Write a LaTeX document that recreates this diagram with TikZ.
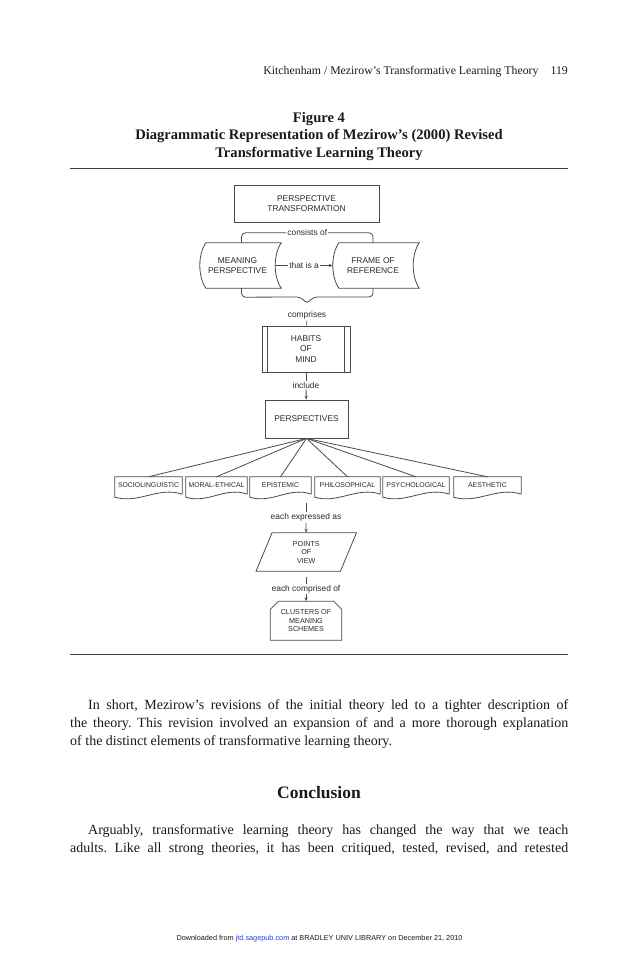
\documentclass[tikz,border=0pt]{standalone}
\usepackage{fontspec}
\setmainfont{Liberation Serif}
\newfontfamily\arialf{Liberation Sans}
\usetikzlibrary{arrows.meta,calc}
\definecolor{dline}{HTML}{4A4A4A}
\definecolor{dtext}{HTML}{2A2A2A}
\definecolor{ink}{HTML}{1A1A1A}
\definecolor{linkblue}{HTML}{2B3FD0}
\frenchspacing
\newcommand\storedshape[1]{\draw[ln] ([xshift=6pt]#1.north west) -- ([xshift=6pt]#1.north east) .. controls +(-8,12) and +(-8,-12) .. ([xshift=6pt]#1.south east) -- ([xshift=6pt]#1.south west) .. controls +(-8,-12) and +(-8,12) .. ([xshift=6pt]#1.north west);}
\newcommand\docshape[1]{\draw[ln] (#1.south east) -- (#1.north east) -- (#1.north west) -- ($(#1.south west)+(0,3)$) .. controls ($(#1.south west)!0.35!(#1.south east)+(0,10)$) and ($(#1.south west)!0.65!(#1.south east)+(0,-8)$) .. (#1.south east);}
\begin{document}
\begin{tikzpicture}[x=1pt,y=-1pt,
  ln/.style={draw=dline,line width=0.8pt},
  rulest/.style={draw=ink!85,line width=1.3pt},
  dfont/.style={font=\arialf\fontsize{8.4}{10.5}\selectfont, text=dtext},
  shapebox/.style={ln, dfont, inner sep=0pt, align=center},
  txtnode/.style={draw=none, dfont, inner sep=0pt, align=center},
  lbl/.style={dfont, fill=white, inner sep=1.2pt, sharp corners},
  arr/.style={ln, -{Stealth[length=4pt,width=3pt]}},
  catbox/.style={txtnode, font=\arialf\fontsize{6.9}{8}\selectfont, minimum height=17pt},
  small/.style={font=\arialf\fontsize{7.2}{8.5}\selectfont},
  body/.style={font=\fontsize{14}{17.7}\selectfont, text=ink, inner sep=0pt},
  titlest/.style={font=\bfseries\fontsize{14.6}{18}\selectfont, text=ink, inner sep=0pt},
]
\fill[white] (0,0) rectangle (638,957);
\useasboundingbox (0,0) rectangle (638,957);

% header and title
\node[body, font=\fontsize{11.8}{14}\selectfont, anchor=base east] (hdr) at (568,75) {Kitchenham / Mezirow’s Transformative Learning Theory\hspace{12pt}119};
\node[titlest, anchor=base] (t1) at (319,122.5) {Figure 4};
\node[titlest, anchor=base] (t2) at (319,140) {Diagrammatic Representation of Mezirow’s (2000) Revised};
\node[titlest, anchor=base] (t3) at (319,157.5) {Transformative Learning Theory};
\draw[rulest] (70,168.5) -- (568,168.5);

% diagram
\node[shapebox, minimum width=145pt, minimum height=37pt] (pt) at (306.5,203.5) {PERSPECTIVE\\TRANSFORMATION};

\node[txtnode, minimum width=75pt, minimum height=45pt] (mp) at (237.5,265.5) {MEANING\\PERSPECTIVE};
\storedshape{mp}
\node[txtnode, minimum width=80pt, minimum height=45pt] (fr) at (373,265.5) {FRAME OF\\REFERENCE};
\storedshape{fr}
\draw[arr] (mp.east) -- node[lbl]{that is a} (fr.west);
\draw[ln, rounded corners=4pt] ([xshift=4pt]mp.north) -- ++(0,-10) -| (fr.north) node[pos=0.25, lbl]{consists of};

\coordinate (brtip) at (307,304);
\draw[ln, rounded corners=4pt] ([xshift=4pt]mp.south) -- ++(0,9) -- ($(brtip)+(-6,-7)$) -- (brtip) -- ($(brtip)+(6,-7)$) -| (fr.south);
\node[lbl] (cmp) at (307,315.5) {comprises};

\node[shapebox, minimum width=88pt, minimum height=46pt] (hm) at (306,349) {HABITS\\OF\\MIND};
\draw[ln] ([xshift=6pt]hm.north west) -- ([xshift=6pt]hm.south west);
\draw[ln] ([xshift=-6pt]hm.north east) -- ([xshift=-6pt]hm.south east);
\draw[ln] (cmp) -- (hm);

\node[lbl] (inc) at (306,385) {include};
\node[shapebox, minimum width=83pt, minimum height=38pt] (ps) at (306.5,419) {PERSPECTIVES};
\draw[ln] (hm) -- (inc);
\draw[arr] (inc) -- (ps);

\foreach \nm/\cx/\w/\t in {c1/148.5/67/SOCIOLINGUISTIC, c2/216.5/61/MORAL-ETHICAL, c3/280.5/61/EPISTEMIC, c4/347.5/65/PHILOSOPHICAL, c5/416/66/PSYCHOLOGICAL, c6/487.5/67/AESTHETIC}{
  \node[catbox, minimum width=\w pt] (\nm) at (\cx,485.5) {\t};
  \docshape{\nm}
  \draw[ln] (ps.south) -- (\nm.north);
}

\coordinate (rowbot) at (306,503);
\node[lbl] (ea) at (306,517.5) {each expressed as};
\node[txtnode, small, minimum width=84pt, minimum height=38pt] (pov) at (306.25,552) {POINTS\\OF\\VIEW};
\draw[ln] ([xshift=8pt]pov.north west) -- ([xshift=8pt]pov.north east) -- ([xshift=-8pt]pov.south east) -- ([xshift=-8pt]pov.south west) -- cycle;
\draw[ln] (rowbot) -- (ea);
\draw[arr] (ea) -- (pov);

\coordinate (povbot) at (306,577);
\node[lbl] (ec) at (306,589) {each comprised of};
\node[txtnode, small, minimum width=71pt, minimum height=38.5pt] (cl) at (306,620.75) {CLUSTERS OF\\MEANING\\SCHEMES};
\draw[ln] ($(cl.north west)+(0,8)$) -- ($(cl.north west)+(8,0)$) -- ($(cl.north east)+(-8,0)$) -- ($(cl.north east)+(0,8)$) -- (cl.south east) -- (cl.south west) -- cycle;
\draw[ln] (povbot) -- (ec);
\draw[arr] (ec) -- (cl);

\draw[rulest] (70,654.5) -- (568,654.5);

% body text
\node[body, anchor=base west] (p1a) at (88,709) {\hbox to 480pt{In short, Mezirow’s revisions of the initial theory led to a tighter description of}};
\node[body, anchor=base west] (p1b) at (70,727) {\hbox to 498pt{the theory. This revision involved an expansion of and a more thorough explanation}};
\node[body, anchor=base west] (p1c) at (70,745) {of the distinct elements of transformative learning theory.};
\node[body, font=\bfseries\fontsize{17.5}{20}\selectfont, anchor=base] (concl) at (319,798) {Conclusion};
\node[body, anchor=base west] (p2a) at (88,834) {\hbox to 480pt{Arguably, transformative learning theory has changed the way that we teach}};
\node[body, anchor=base west] (p2b) at (70,852) {\hbox to 498pt{adults. Like all strong theories, it has been critiqued, tested, revised, and retested}};
\node[body, font=\arialf\fontsize{7.3}{9}\selectfont, anchor=base] (foot) at (319.5,940) {Downloaded from \textcolor{linkblue}{jtd.sagepub.com} at BRADLEY UNIV LIBRARY on December 21, 2010};
\end{tikzpicture}
\end{document}
